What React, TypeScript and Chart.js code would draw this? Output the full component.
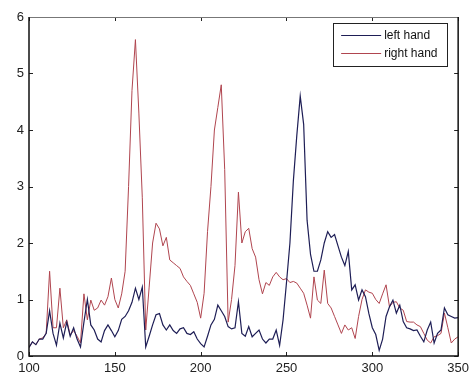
import { useEffect, useRef } from "react";
import { Chart, registerables } from "chart.js";

Chart.register(...registerables);

const frames = [
  100, 102, 104, 106, 108, 110, 112, 114, 116, 118,
  120, 122, 124, 126, 128, 130, 132, 134, 136, 138,
  140, 142, 144, 146, 148, 150, 152, 154, 156, 158,
  160, 162, 164, 166, 168, 170, 172, 174, 176, 178,
  180, 182, 184, 186, 188, 190, 192, 194, 196, 198,
  200, 202, 204, 206, 208, 210, 212, 214, 216, 218,
  220, 222, 224, 226, 228, 230, 232, 234, 236, 238,
  240, 242, 244, 246, 248, 250, 252, 254, 256, 258,
  260, 262, 264, 266, 268, 270, 272, 274, 276, 278,
  280, 282, 284, 286, 288, 290, 292, 294, 296, 298,
  300, 302, 304, 306, 308, 310, 312, 314, 316, 318,
  320, 322, 324, 326, 328, 330, 332, 334, 336, 338,
  340, 342, 344, 346, 348, 350,
];

const leftHand = [
  0.15, 0.25, 0.2, 0.3, 0.3, 0.4, 0.8, 0.4, 0.19, 0.58,
  0.32, 0.6, 0.35, 0.5, 0.3, 0.16, 0.6, 1.0, 0.55, 0.46,
  0.3, 0.25, 0.45, 0.55, 0.45, 0.34, 0.45, 0.65, 0.7, 0.8,
  0.95, 1.2, 1.0, 1.22, 0.16, 0.35, 0.55, 0.73, 0.75, 0.55,
  0.46, 0.55, 0.45, 0.4, 0.48, 0.5, 0.4, 0.38, 0.43, 0.3,
  0.22, 0.16, 0.35, 0.55, 0.65, 0.9, 0.8, 0.7, 0.52, 0.48,
  0.5, 0.96, 0.4, 0.35, 0.52, 0.34, 0.4, 0.46, 0.3, 0.23,
  0.3, 0.3, 0.46, 0.19, 0.64, 1.3, 2.0, 3.1, 3.9, 4.6,
  4.1, 2.4, 1.8, 1.5, 1.5, 1.7, 2.0, 2.2, 2.1, 2.15,
  1.95, 1.75, 1.6, 1.85, 1.17, 1.26, 0.99, 1.17, 1.05, 0.75,
  0.5, 0.38, 0.1, 0.3, 0.7, 0.87, 0.99, 0.76, 0.9, 0.61,
  0.5, 0.48, 0.45, 0.46, 0.35, 0.25, 0.46, 0.6, 0.23, 0.4,
  0.46, 0.85, 0.73, 0.7, 0.67, 0.68,
];

const rightHand = [
  0.15, 0.25, 0.2, 0.3, 0.32, 0.4, 1.5, 0.5, 0.5, 1.2,
  0.5, 0.64, 0.37, 0.45, 0.35, 0.23, 1.1, 0.64, 0.99, 0.81,
  0.85, 0.99, 0.9, 1.05, 1.38, 1.0, 0.85, 1.1, 1.5, 3.0,
  4.7, 5.6, 4.3, 2.8, 0.46, 1.22, 2.0, 2.35, 2.25, 1.95,
  2.1, 1.7, 1.65, 1.6, 1.55, 1.4, 1.32, 1.25, 1.1, 0.95,
  0.67, 1.11, 2.2, 3.0, 4.0, 4.4, 4.8, 3.3, 0.6, 1.0,
  1.6, 2.9, 2.0, 2.2, 2.26, 1.9, 1.75, 1.35, 1.1, 1.3,
  1.25, 1.4, 1.48, 1.4, 1.35, 1.37, 1.3, 1.32, 1.29, 1.2,
  1.11, 0.9, 0.67, 1.4, 0.99, 0.93, 1.52, 0.93, 0.85, 0.7,
  0.55, 0.4, 0.55, 0.46, 0.5, 0.31, 0.7, 1.0, 1.17, 1.13,
  1.11, 1.0, 0.93, 1.1, 1.26, 0.87, 0.95, 0.96, 0.85, 0.81,
  0.61, 0.6, 0.6, 0.55, 0.52, 0.4, 0.28, 0.23, 0.34, 0.36,
  0.4, 0.76, 0.5, 0.23, 0.3, 0.34,
];

const seriesNames = ["left hand", "right hand"];
const xTicks = [100, 150, 200, 250, 300, 350];
const yTicks = [0, 1, 2, 3, 4, 5, 6];

const FONT = "'Liberation Sans', Arial, sans-serif";
const LEFT_COLOR = "#1e1e56";
const RIGHT_COLOR = "#b0454f";

const boxPlugin = {
  id: "matlabBox",
  afterDatasetsDraw(chart: any) {
    const { ctx, chartArea: a, scales } = chart;
    ctx.save();
    ctx.lineWidth = 1;
    ctx.strokeStyle = "#222";
    const tl = 4;
    ctx.beginPath();
    xTicks.forEach((v) => {
      const px = Math.round(scales.x.getPixelForValue(v)) + 0.5;
      ctx.moveTo(px, a.bottom);
      ctx.lineTo(px, a.bottom - tl);
      ctx.moveTo(px, a.top);
      ctx.lineTo(px, a.top + tl);
    });
    yTicks.forEach((v) => {
      const py = Math.round(scales.y.getPixelForValue(v)) + 0.5;
      ctx.moveTo(a.left, py);
      ctx.lineTo(a.left + tl, py);
      ctx.moveTo(a.right, py);
      ctx.lineTo(a.right - tl, py);
    });
    ctx.stroke();
    ctx.strokeStyle = "#777";
    ctx.beginPath();
    ctx.moveTo(a.left, Math.round(a.top) + 0.5);
    ctx.lineTo(a.right, Math.round(a.top) + 0.5);
    ctx.stroke();
    ctx.strokeStyle = "#111";
    ctx.lineWidth = 1.5;
    ctx.beginPath();
    ctx.moveTo(a.left, a.top);
    ctx.lineTo(a.left, a.bottom);
    ctx.lineTo(a.right, a.bottom);
    ctx.lineTo(a.right, a.top);
    ctx.stroke();

    const lx = a.right - 125;
    const ly = a.top + 6;
    const lw = 114;
    const lh = 43;
    ctx.fillStyle = "#fff";
    ctx.fillRect(lx, ly, lw, lh);
    ctx.strokeStyle = "#222";
    ctx.lineWidth = 1;
    ctx.strokeRect(Math.round(lx) + 0.5, Math.round(ly) + 0.5, lw, lh);
    ctx.font = `12px ${FONT}`;
    ctx.textBaseline = "middle";
    ctx.textAlign = "left";
    chart.data.datasets.forEach((ds: any, i: number) => {
      const y = Math.round(ly + 12 + i * 18) + 0.5;
      ctx.strokeStyle = ds.borderColor;
      ctx.lineWidth = 1;
      ctx.beginPath();
      ctx.moveTo(lx + 8, y);
      ctx.lineTo(lx + 48, y);
      ctx.stroke();
      ctx.fillStyle = "#111";
      ctx.fillText(ds.label, lx + 51, y);
    });
    ctx.restore();
  },
};

export default function App() {
  const ref = useRef<HTMLCanvasElement>(null);

  useEffect(() => {
    if (!ref.current) return;
    const chart = new Chart(ref.current, {
      type: "line",
      data: {
        datasets: [
          {
            label: seriesNames[0],
            data: frames.map((f, i) => ({ x: f, y: leftHand[i] })),
            borderColor: LEFT_COLOR,
            borderWidth: 1.2,
            pointRadius: 0,
            tension: 0,
            fill: false,
          },
          {
            label: seriesNames[1],
            data: frames.map((f, i) => ({ x: f, y: rightHand[i] })),
            borderColor: RIGHT_COLOR,
            borderWidth: 1,
            pointRadius: 0,
            tension: 0,
            fill: false,
          },
        ],
      },
      options: {
        responsive: false,
        animation: false,
        events: [],
        layout: { padding: { top: 17, right: 14, left: 0, bottom: 0 } },
        plugins: { legend: { display: false }, tooltip: { enabled: false } },
        scales: {
          x: {
            type: "linear",
            min: 100,
            max: 350,
            afterBuildTicks: (s: any) => {
              s.ticks = xTicks.map((v) => ({ value: v }));
            },
            afterFit: (s: any) => {
              s.height = 26;
            },
            grid: { display: false, drawTicks: false },
            border: { display: false },
            ticks: {
              padding: 5,
              color: "#222",
              font: { family: FONT, size: 13 },
              maxRotation: 0,
              autoSkip: false,
            },
          },
          y: {
            type: "linear",
            min: 0,
            max: 6,
            afterBuildTicks: (s: any) => {
              s.ticks = yTicks.map((v) => ({ value: v }));
            },
            afterFit: (s: any) => {
              s.width = 29;
            },
            grid: { display: false, drawTicks: false },
            border: { display: false },
            ticks: {
              padding: 5,
              color: "#222",
              font: { family: FONT, size: 13 },
            },
          },
        },
      },
      plugins: [boxPlugin],
    });
    return () => chart.destroy();
  }, []);

  return (
    <div style={{ position: "fixed", left: 0, top: 0, width: 474, height: 382, background: "#fff" }}>
      <canvas ref={ref} width={474} height={382} style={{ display: "block" }} />
    </div>
  );
}
